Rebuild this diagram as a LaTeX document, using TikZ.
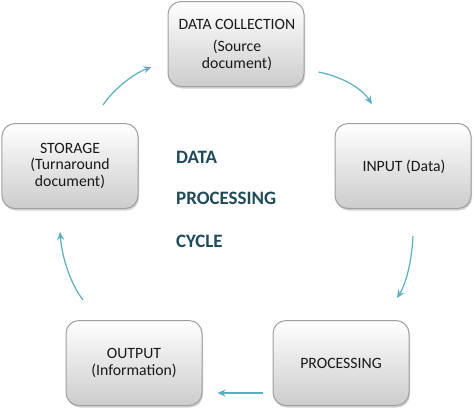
\documentclass[tikz,border=0pt]{standalone}
\usepackage{fontspec}
\setmainfont{Carlito}
\usetikzlibrary{arrows.meta,shadows,calc}
\definecolor{arrowc}{HTML}{5AAFC0}
\definecolor{titlec}{HTML}{1F4B5A}
\tikzset{
 glassbox/.style={draw=gray!75, line width=1bp, rounded corners=13bp,
   top color=white, middle color=gray!5, bottom color=gray!40,
   minimum width=136bp, minimum height=85bp, inner sep=0pt,
   drop shadow={shadow xshift=1bp, shadow yshift=-2bp, opacity=0.35, fill=gray}},
 boxtext/.style={font=\fontsize{15.8}{18}\selectfont, text=black!90, inner sep=0pt},
 cyc/.style={draw=arrowc, line width=1.2bp, -{Stealth[length=8bp,width=7bp]}},
 titletext/.style={font=\bfseries\fontsize{19}{21}\selectfont, text=titlec, anchor=west, inner sep=0pt}
}
\begin{document}
\begin{tikzpicture}[x=1bp,y=-1bp]
\useasboundingbox[fill=white] (0,0) rectangle (474,412);
% boxes
\node[glassbox] (coll) at (236,44) {};
\node[glassbox] (stor) at (70,166) {};
\node[glassbox] (inp) at (403,166) {};
\node[glassbox] (proc) at (341,363) {};
\node[glassbox] (outp) at (134,363) {};
% box texts
\node[boxtext] (collA) at (237,24) {DATA COLLECTION};
\node[boxtext] (collB) at (237,47) {(Source};
\node[boxtext] (collC) at (237,64) {document)};
\node[boxtext] (storA) at (70,148) {STORAGE};
\node[boxtext] (storB) at (70,165) {(Turnaround};
\node[boxtext] (storC) at (70,182) {document)};
\node[boxtext] (inpA) at (404,167) {INPUT (Data)};
\node[boxtext] (procA) at (341,363) {PROCESSING};
\node[boxtext] (outpA) at (134,353) {OUTPUT};
\node[boxtext] (outpB) at (134,371) {(Information)};
% title
\node[titletext] (t1) at (176,157) {DATA};
\node[titletext] (t2) at (176,198) {PROCESSING};
\node[titletext] (t3) at (176,241) {CYCLE};
% arrows
\draw[cyc] ($(stor.north)+(33,-18)$) .. controls ($(stor.north)+(43,-33)$) and ($(coll.west)+(-35,30)$) .. ($(coll.west)+(-16,23)$);
\draw[cyc] ($(coll.east)+(14,28)$) .. controls ($(coll.east)+(34,32)$) and ($(inp.north)+(-43,-37)$) .. ($(inp.north)+(-31,-19)$);
\draw[cyc] ($(inp.south)+(10,27)$) .. controls ($(inp.south)+(9,49)$) and ($(proc.north)+(66,-38)$) .. ($(proc.north)+(56,-22)$);
\draw[cyc] ($(proc.west)+(-10,30)$) -- ($(outp.east)+(15,30)$);
\draw[cyc] ($(outp.north)+(-51,-20)$) .. controls ($(outp.north)+(-64,-37)$) and ($(stor.south)+(-8,48)$) .. ($(stor.south)+(-10,23)$);
\end{tikzpicture}
\end{document}
